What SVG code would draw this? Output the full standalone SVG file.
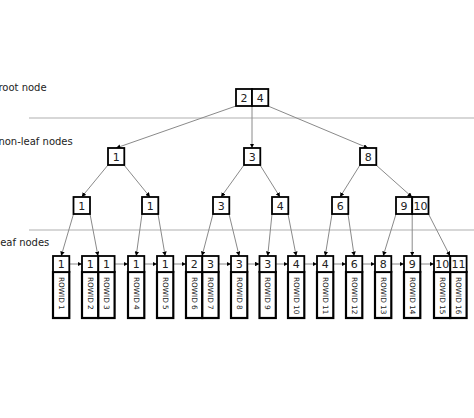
<svg xmlns="http://www.w3.org/2000/svg" width="474" height="418" viewBox="0 0 474 418">
<defs>
<style>
.lbl{font-family:"DejaVu Sans",sans-serif;font-size:10px;fill:#222}
.k{font-family:"DejaVu Sans",sans-serif;font-size:11px;fill:#222;text-anchor:middle}
.r{font-family:"DejaVu Sans",sans-serif;font-size:7.3px;fill:#222}
.box{fill:#fff;stroke:#000;stroke-width:1.8}
.rb{fill:#fff;stroke:#000;stroke-width:2.2}
.e{stroke:#8a8a8a;stroke-width:1;fill:none;marker-end:url(#ah)}
.div{stroke:#b0b0b0;stroke-width:1.2}
</style>
<marker id="ah" viewBox="0 0 6 6" refX="6" refY="3" markerWidth="4.5" markerHeight="4.5" orient="auto" markerUnits="userSpaceOnUse"><path d="M0,0 L6,3 L0,6 z" fill="#000"/></marker>
</defs>
<rect width="474" height="418" fill="#fff"/>
<g id="labels">
<text class="lbl" x="-1.6" y="91">root node</text>
<text class="lbl" x="-1.6" y="145">non-leaf nodes</text>
<text class="lbl" x="-2.6" y="246">leaf nodes</text>
<line class="div" x1="29" y1="118" x2="474" y2="118"/>
<line class="div" x1="29" y1="230" x2="474" y2="230"/>
</g>
<g id="connectors">
<line class="e" x1="236" y1="106" x2="116" y2="148"/>
<line class="e" x1="252" y1="106" x2="252" y2="148"/>
<line class="e" x1="268" y1="106" x2="368" y2="148"/>
<line class="e" x1="108" y1="165" x2="81.7" y2="197"/>
<line class="e" x1="124" y1="165" x2="150" y2="197"/>
<line class="e" x1="244" y1="165" x2="221" y2="197"/>
<line class="e" x1="260" y1="165" x2="280" y2="197"/>
<line class="e" x1="360" y1="165" x2="340" y2="197"/>
<line class="e" x1="376" y1="165" x2="412" y2="197"/>
<line class="e" x1="73.5" y1="214" x2="61.2" y2="256"/>
<line class="e" x1="90" y1="214" x2="98" y2="256"/>
<line class="e" x1="142" y1="214" x2="136.2" y2="256"/>
<line class="e" x1="158" y1="214" x2="165.2" y2="256"/>
<line class="e" x1="213" y1="214" x2="202" y2="256"/>
<line class="e" x1="229" y1="214" x2="239.2" y2="256"/>
<line class="e" x1="272" y1="214" x2="267.7" y2="256"/>
<line class="e" x1="288" y1="214" x2="296.2" y2="256"/>
<line class="e" x1="332" y1="214" x2="325.2" y2="256"/>
<line class="e" x1="348" y1="214" x2="354.2" y2="256"/>
<line class="e" x1="396" y1="214" x2="383.2" y2="256"/>
<line class="e" x1="412.2" y1="214" x2="412.2" y2="256"/>
<line class="e" x1="428.5" y1="214" x2="450" y2="256"/>
<line class="e" x1="69.3" y1="264" x2="82" y2="264"/>
<line class="e" x1="114.6" y1="264" x2="128" y2="264"/>
<line class="e" x1="144.3" y1="264" x2="157" y2="264"/>
<line class="e" x1="173.3" y1="264" x2="186" y2="264"/>
<line class="e" x1="218.6" y1="264" x2="231" y2="264"/>
<line class="e" x1="247.3" y1="264" x2="259.5" y2="264"/>
<line class="e" x1="275.8" y1="264" x2="288" y2="264"/>
<line class="e" x1="304.3" y1="264" x2="317" y2="264"/>
<line class="e" x1="333.3" y1="264" x2="346" y2="264"/>
<line class="e" x1="362.3" y1="264" x2="375" y2="264"/>
<line class="e" x1="391.3" y1="264" x2="404" y2="264"/>
<line class="e" x1="420.3" y1="264" x2="434" y2="264"/>
</g>
<g id="root">
<rect class="box" x="236" y="89" width="16" height="17"/><rect class="box" x="252" y="89" width="16.3" height="17"/>
<text class="k" x="244" y="101.5">2</text><text class="k" x="260.2" y="101.5">4</text>
</g>
<g id="n1"><rect class="box" x="108" y="148" width="16.3" height="17"/><text class="k" x="116.2" y="160.5">1</text></g>
<g id="n3"><rect class="box" x="244" y="148" width="16.3" height="17"/><text class="k" x="252.2" y="160.5">3</text></g>
<g id="n8"><rect class="box" x="360" y="148" width="16.3" height="17"/><text class="k" x="368.2" y="160.5">8</text></g>
<g id="m1a"><rect class="box" x="73.5" y="197" width="16.5" height="17"/><text class="k" x="81.7" y="209.5">1</text></g>
<g id="m1b"><rect class="box" x="142" y="197" width="16.3" height="17"/><text class="k" x="150.2" y="209.5">1</text></g>
<g id="m3"><rect class="box" x="213" y="197" width="16.3" height="17"/><text class="k" x="221.2" y="209.5">3</text></g>
<g id="m4"><rect class="box" x="272" y="197" width="16.3" height="17"/><text class="k" x="280.2" y="209.5">4</text></g>
<g id="m6"><rect class="box" x="332" y="197" width="16.3" height="17"/><text class="k" x="340.2" y="209.5">6</text></g>
<g id="m910"><rect class="box" x="396" y="197" width="16.2" height="17"/><rect class="box" x="412.2" y="197" width="16.3" height="17"/><text class="k" x="404.1" y="209.5">9</text><text class="k" x="420.4" y="209.5">10</text></g>
<g id="leaf1">
<rect class="rb" x="53" y="272" width="16.3" height="46"/><rect class="box" x="53" y="256" width="16.3" height="16"/><text class="k" x="61.2" y="268">1</text><text class="r" transform="translate(58.5,277) rotate(90)">ROWID 1</text>
</g>
<g id="leaf2">
<rect class="rb" x="82" y="272" width="16.3" height="46"/><rect class="box" x="82" y="256" width="16.3" height="16"/><text class="k" x="90.2" y="268">1</text><text class="r" transform="translate(87.5,277) rotate(90)">ROWID 2</text>
<rect class="rb" x="98.3" y="272" width="16.3" height="46"/><rect class="box" x="98.3" y="256" width="16.3" height="16"/><text class="k" x="106.5" y="268">1</text><text class="r" transform="translate(103.8,277) rotate(90)">ROWID 3</text>
</g>
<g id="leaf3">
<rect class="rb" x="128" y="272" width="16.3" height="46"/><rect class="box" x="128" y="256" width="16.3" height="16"/><text class="k" x="136.2" y="268">1</text><text class="r" transform="translate(133.5,277) rotate(90)">ROWID 4</text>
</g>
<g id="leaf4">
<rect class="rb" x="157" y="272" width="16.3" height="46"/><rect class="box" x="157" y="256" width="16.3" height="16"/><text class="k" x="165.2" y="268">1</text><text class="r" transform="translate(162.5,277) rotate(90)">ROWID 5</text>
</g>
<g id="leaf5">
<rect class="rb" x="186" y="272" width="16.3" height="46"/><rect class="box" x="186" y="256" width="16.3" height="16"/><text class="k" x="194.2" y="268">2</text><text class="r" transform="translate(191.5,277) rotate(90)">ROWID 6</text>
<rect class="rb" x="202.3" y="272" width="16.3" height="46"/><rect class="box" x="202.3" y="256" width="16.3" height="16"/><text class="k" x="210.5" y="268">3</text><text class="r" transform="translate(207.8,277) rotate(90)">ROWID 7</text>
</g>
<g id="leaf6">
<rect class="rb" x="231" y="272" width="16.3" height="46"/><rect class="box" x="231" y="256" width="16.3" height="16"/><text class="k" x="239.2" y="268">3</text><text class="r" transform="translate(236.5,277) rotate(90)">ROWID 8</text>
</g>
<g id="leaf7">
<rect class="rb" x="259.5" y="272" width="16.3" height="46"/><rect class="box" x="259.5" y="256" width="16.3" height="16"/><text class="k" x="267.7" y="268">3</text><text class="r" transform="translate(265,277) rotate(90)">ROWID 9</text>
</g>
<g id="leaf8">
<rect class="rb" x="288" y="272" width="16.3" height="46"/><rect class="box" x="288" y="256" width="16.3" height="16"/><text class="k" x="296.2" y="268">4</text><text class="r" transform="translate(293.5,277) rotate(90)">ROWID 10</text>
</g>
<g id="leaf9">
<rect class="rb" x="317" y="272" width="16.3" height="46"/><rect class="box" x="317" y="256" width="16.3" height="16"/><text class="k" x="325.2" y="268">4</text><text class="r" transform="translate(322.5,277) rotate(90)">ROWID 11</text>
</g>
<g id="leaf10">
<rect class="rb" x="346" y="272" width="16.3" height="46"/><rect class="box" x="346" y="256" width="16.3" height="16"/><text class="k" x="354.2" y="268">6</text><text class="r" transform="translate(351.5,277) rotate(90)">ROWID 12</text>
</g>
<g id="leaf11">
<rect class="rb" x="375" y="272" width="16.3" height="46"/><rect class="box" x="375" y="256" width="16.3" height="16"/><text class="k" x="383.2" y="268">8</text><text class="r" transform="translate(380.5,277) rotate(90)">ROWID 13</text>
</g>
<g id="leaf12">
<rect class="rb" x="404" y="272" width="16.3" height="46"/><rect class="box" x="404" y="256" width="16.3" height="16"/><text class="k" x="412.2" y="268">9</text><text class="r" transform="translate(409.5,277) rotate(90)">ROWID 14</text>
</g>
<g id="leaf13">
<rect class="rb" x="434" y="272" width="16.3" height="46"/><rect class="box" x="434" y="256" width="16.3" height="16"/><text class="k" x="442.2" y="268">10</text><text class="r" transform="translate(439.5,277) rotate(90)">ROWID 15</text>
<rect class="rb" x="450.3" y="272" width="16.3" height="46"/><rect class="box" x="450.3" y="256" width="16.3" height="16"/><text class="k" x="458.5" y="268">11</text><text class="r" transform="translate(455.8,277) rotate(90)">ROWID 16</text>
</g>
</svg>
